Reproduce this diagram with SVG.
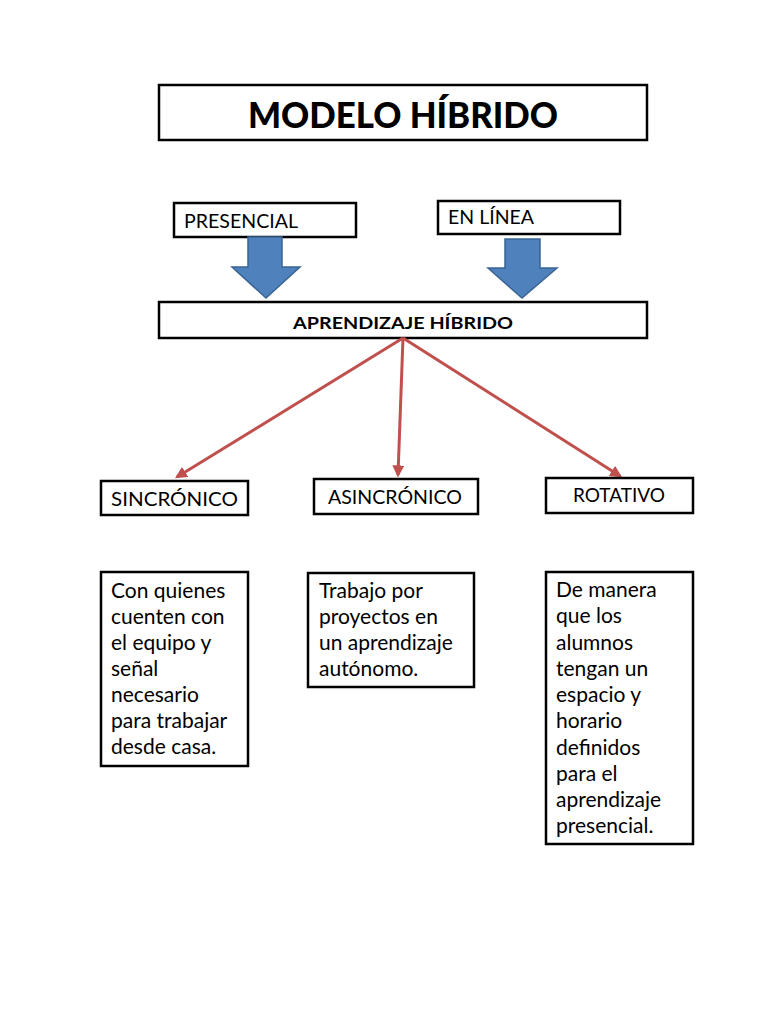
<svg xmlns="http://www.w3.org/2000/svg" width="768" height="1024" viewBox="0 0 768 1024">
<defs>
<style>
.box{fill:#fff;stroke:#000;stroke-width:2.5}
.t{font-family:Lato,"Open Sans","Liberation Sans",sans-serif;fill:#000}
.lbl{font-size:19px}
.body{font-size:21px}
.blue{fill:#4F81BD;stroke:#3A6494;stroke-width:1.5}
.red{stroke:#C0504D;stroke-width:3;fill:none;marker-end:url(#ah)}
</style>
<marker id="ah" viewBox="0 0 10 10" refX="8" refY="5" markerWidth="4" markerHeight="4" orient="auto" markerUnits="strokeWidth">
<path d="M0,0 L10,5 L0,10 z" fill="#C0504D"/>
</marker>
</defs>
<rect width="768" height="1024" fill="#fff"/>
<g id="title">
<rect class="box" x="159" y="85" width="488" height="55"/>
<text class="t" x="403" y="128" font-size="36" font-weight="900" text-anchor="middle" textLength="310" lengthAdjust="spacingAndGlyphs">MODELO HÍBRIDO</text>
</g>
<g id="presencial">
<rect class="box" x="174" y="203" width="182" height="34"/>
<text class="t lbl" x="184" y="228" textLength="114" lengthAdjust="spacingAndGlyphs">PRESENCIAL</text>
</g>
<g id="enlinea">
<rect class="box" x="438" y="201" width="182" height="33"/>
<text class="t lbl" x="448" y="224" textLength="86" lengthAdjust="spacingAndGlyphs">EN LÍNEA</text>
</g>
<g id="blue-arrows">
<path class="blue" d="M248,237 H282 V267 H300 L266,298 L232,267 H248 Z"/>
<path class="blue" d="M505,239 H540 V268 H557 L522,298 L488,268 H505 Z"/>
</g>
<g id="aprendizaje">
<rect class="box" x="159" y="302" width="488" height="36"/>
<text class="t" x="403" y="329" font-size="17" font-weight="bold" text-anchor="middle" textLength="220" lengthAdjust="spacingAndGlyphs">APRENDIZAJE HÍBRIDO</text>
</g>
<g id="connectors">
<line class="red" x1="403" y1="338" x2="177" y2="477"/>
<line class="red" x1="403" y1="338" x2="398" y2="475"/>
<line class="red" x1="403" y1="338" x2="620" y2="476"/>
</g>
<g id="sincronico">
<rect class="box" x="101" y="481" width="147" height="34"/>
<text class="t lbl" x="111" y="506" textLength="127" lengthAdjust="spacingAndGlyphs">SINCRÓNICO</text>
</g>
<g id="asincronico">
<rect class="box" x="314" y="479" width="164" height="35"/>
<text class="t lbl" x="328" y="504" textLength="134" lengthAdjust="spacingAndGlyphs">ASINCRÓNICO</text>
</g>
<g id="rotativo">
<rect class="box" x="546" y="478" width="147" height="35"/>
<text class="t lbl" x="573" y="502" textLength="92" lengthAdjust="spacingAndGlyphs">ROTATIVO</text>
</g>
<g id="desc-sincronico">
<rect class="box" x="101" y="572" width="147" height="194"/>
<text class="t body" x="111" y="598">Con quienes</text>
<text class="t body" x="111" y="624">cuenten con</text>
<text class="t body" x="111" y="650">el equipo y</text>
<text class="t body" x="111" y="676">señal</text>
<text class="t body" x="111" y="702">necesario</text>
<text class="t body" x="111" y="728">para trabajar</text>
<text class="t body" x="111" y="754">desde casa.</text>
</g>
<g id="desc-asincronico">
<rect class="box" x="308" y="573" width="166" height="114"/>
<text class="t body" x="319" y="598">Trabajo por</text>
<text class="t body" x="319" y="624">proyectos en</text>
<text class="t body" x="319" y="650">un aprendizaje</text>
<text class="t body" x="319" y="676">autónomo.</text>
</g>
<g id="desc-rotativo">
<rect class="box" x="546" y="572" width="147" height="272"/>
<text class="t body" x="556" y="597">De manera</text>
<text class="t body" x="556" y="623">que los</text>
<text class="t body" x="556" y="650">alumnos</text>
<text class="t body" x="556" y="676">tengan un</text>
<text class="t body" x="556" y="702">espacio y</text>
<text class="t body" x="556" y="728">horario</text>
<text class="t body" x="556" y="755">definidos</text>
<text class="t body" x="556" y="781">para el</text>
<text class="t body" x="556" y="807">aprendizaje</text>
<text class="t body" x="556" y="833">presencial.</text>
</g>
</svg>
